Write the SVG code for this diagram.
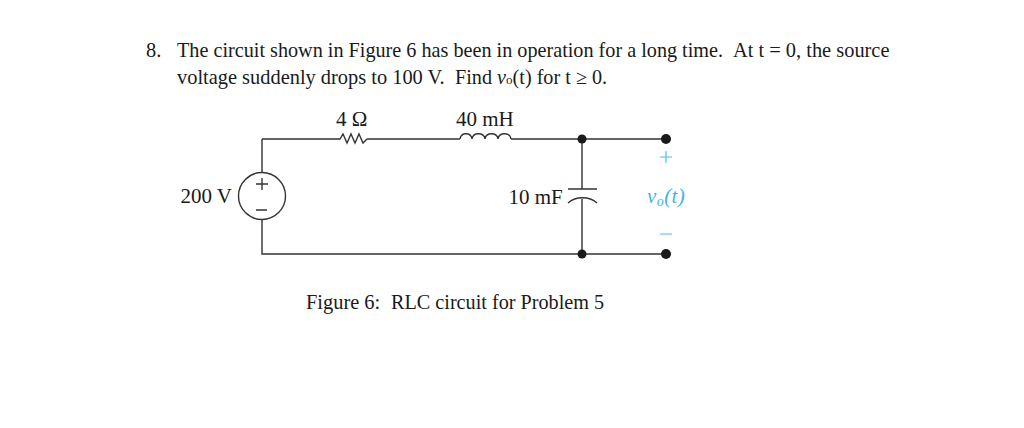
<svg xmlns="http://www.w3.org/2000/svg" width="1024" height="428" viewBox="0 0 1024 428">
<style>
text{font-family:"Liberation Serif","Times New Roman",serif;font-size:20.4px;fill:#1a1a1a}
.l{font-size:21px}
.m{font-size:20.2px}
.c{fill:none;stroke:#333;stroke-width:1.4}
.d{fill:#1a1a1a}
.bl{stroke:#4dbcec;stroke-width:1.2;fill:none}
</style>
<rect width="1024" height="428" fill="#fff"/>
<g id="problem-text">
<text x="146" y="57">8.</text>
<text class="m" x="177" y="57">The circuit shown in Figure 6 has been in operation for a long time.</text>
<text x="733" y="57">At t = 0, the source</text>
<text x="177" y="84">voltage suddenly drops to 100 V.</text>
<text class="m" x="455" y="84">Find <tspan font-style="italic">v</tspan><tspan font-size="13">o</tspan>(t) for t ≥ 0.</text>
</g>
<g id="connectors">
<path class="c" d="M262 139H336M367 139H460M511 139H666M262 139V172.500M262 220V254H666M582 139V189M582 199V254"/>
</g>
<g id="resistor"><path class="c" d="M336 139L340 139L343 134L347 143L351 134L355 143L359 134L363 143L367 139"/><text class="l" x="336" y="126">4 Ω</text></g>
<g id="inductor"><path class="c" d="M460 139C461 132 471 132 472 139C473 132 484 132 485 139C486 132 497 132 498 139C499 132 510 132 511 139"/><text class="l" x="456" y="126">40 mH</text></g>
<g id="source"><circle class="c" cx="262" cy="196" r="23.500"/><path class="c" d="M256 184H268M262 178V190M256 210H267"/><text class="l" x="180.500" y="203">200 V</text></g>
<g id="capacitor"><path class="c" d="M568 189H597M568 203C576 196 589 196 597 203"/><text class="l" x="508.500" y="204">10 mF</text></g>
<g id="terminals"><circle class="d" cx="582" cy="139" r="4.500"/><circle class="d" cx="582" cy="254" r="4.500"/><circle class="d" cx="666" cy="139" r="5"/><circle class="d" cx="666" cy="254" r="5"/></g>
<g id="output-label"><path class="bl" d="M660 157H672M666 151V163M660 234H672"/><text class="l" x="647" y="203" style="fill:#3cb4e8;font-style:italic;letter-spacing:.4px">v<tspan font-size="14" dy="3">o</tspan><tspan dy="-3">(t)</tspan></text></g>
<g id="caption"><text x="306" y="309">Figure 6:</text><text class="m" x="391" y="309">RLC circuit for Problem 5</text></g>
</svg>
